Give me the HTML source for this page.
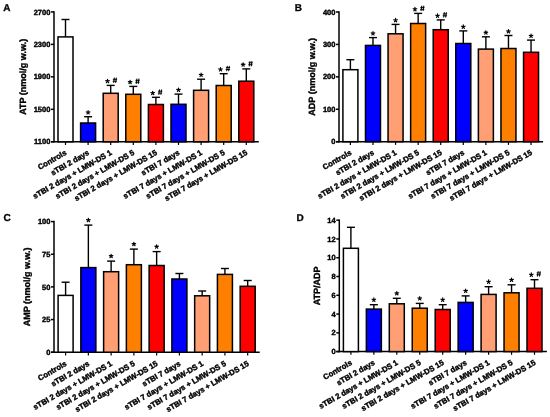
<!DOCTYPE html>
<html><head><meta charset="utf-8"><style>
html,body{margin:0;padding:0;background:#fff;}
svg{display:block;will-change:transform;font-family:"Liberation Sans", sans-serif;}
text{stroke:#000;stroke-width:0.4px;text-rendering:geometricPrecision;}
.st{text-rendering:geometricPrecision;stroke-width:0.3px;}
</style></head><body>
<svg width="550" height="417" viewBox="0 0 550 417">
<rect width="550" height="417" fill="#fff"/>
<text x="3.2" y="10.9" font-size="10" font-weight="bold" class="st">A</text>
<line x1="54" y1="11.15" x2="54" y2="142.55" stroke="#000" stroke-width="1.5"/>
<line x1="51" y1="11.90" x2="54" y2="11.90" stroke="#000" stroke-width="1.5"/>
<text x="50.4" y="14.50" font-size="7.5" font-weight="bold" text-anchor="end">2700</text>
<line x1="51" y1="44.38" x2="54" y2="44.38" stroke="#000" stroke-width="1.5"/>
<text x="50.4" y="46.98" font-size="7.5" font-weight="bold" text-anchor="end">2300</text>
<line x1="51" y1="76.85" x2="54" y2="76.85" stroke="#000" stroke-width="1.5"/>
<text x="50.4" y="79.45" font-size="7.5" font-weight="bold" text-anchor="end">1900</text>
<line x1="51" y1="109.33" x2="54" y2="109.33" stroke="#000" stroke-width="1.5"/>
<text x="50.4" y="111.93" font-size="7.5" font-weight="bold" text-anchor="end">1500</text>
<line x1="51" y1="141.80" x2="54" y2="141.80" stroke="#000" stroke-width="1.5"/>
<text x="50.4" y="144.40" font-size="7.5" font-weight="bold" text-anchor="end">1100</text>
<line x1="51" y1="141.8" x2="258.80" y2="141.8" stroke="#000" stroke-width="1.5"/>
<text transform="translate(26.0,76.85) rotate(-90)" font-size="9.0" font-weight="bold" text-anchor="middle">ATP (nmol/g w.w.)</text>
<line x1="65.50" y1="19.50" x2="65.50" y2="36.90" stroke="#000" stroke-width="1.4"/>
<line x1="61.50" y1="19.50" x2="69.50" y2="19.50" stroke="#000" stroke-width="1.4"/>
<rect x="58.00" y="36.90" width="15.0" height="104.90" fill="#ffffff" stroke="#000" stroke-width="1.5"/>
<line x1="65.50" y1="141.8" x2="65.50" y2="145.0" stroke="#000" stroke-width="1.2"/>
<text transform="translate(67.20,154.20) rotate(-30)" font-size="7.72" font-weight="bold" text-anchor="end">Controls</text>
<line x1="88.10" y1="116.70" x2="88.10" y2="123.00" stroke="#000" stroke-width="1.4"/>
<line x1="84.10" y1="116.70" x2="92.10" y2="116.70" stroke="#000" stroke-width="1.4"/>
<rect x="80.60" y="123.00" width="15.0" height="18.80" fill="#0000ff" stroke="#000" stroke-width="1.5"/>
<line x1="88.10" y1="141.8" x2="88.10" y2="145.0" stroke="#000" stroke-width="1.2"/>
<path d="M88.10,112.49L88.10,110.64M88.10,112.49L89.86,111.92M88.10,112.49L89.19,113.99M88.10,112.49L87.01,113.99M88.10,112.49L86.34,111.92" stroke="#000" stroke-width="1.2" stroke-linecap="round" fill="none"/>
<text transform="translate(89.80,154.20) rotate(-30)" font-size="7.72" font-weight="bold" text-anchor="end">sTBI 2 days</text>
<line x1="110.70" y1="85.40" x2="110.70" y2="93.30" stroke="#000" stroke-width="1.4"/>
<line x1="106.70" y1="85.40" x2="114.70" y2="85.40" stroke="#000" stroke-width="1.4"/>
<rect x="103.20" y="93.30" width="15.0" height="48.50" fill="#ff9f73" stroke="#000" stroke-width="1.5"/>
<line x1="110.70" y1="141.8" x2="110.70" y2="145.0" stroke="#000" stroke-width="1.2"/>
<path d="M107.50,81.19L107.50,79.34M107.50,81.19L109.26,80.62M107.50,81.19L108.59,82.69M107.50,81.19L106.41,82.69M107.50,81.19L105.74,80.62" stroke="#000" stroke-width="1.2" stroke-linecap="round" fill="none"/>
<path d="M114.35,77.60L113.65,82.90M116.35,77.60L115.65,82.90M112.90,79.30H117.10M112.70,81.20H116.90" stroke="#000" stroke-width="1.0" fill="none"/>
<text transform="translate(112.40,154.20) rotate(-30)" font-size="7.72" font-weight="bold" text-anchor="end">sTBI 2 days + LMW-DS 1</text>
<line x1="133.30" y1="86.40" x2="133.30" y2="94.30" stroke="#000" stroke-width="1.4"/>
<line x1="129.30" y1="86.40" x2="137.30" y2="86.40" stroke="#000" stroke-width="1.4"/>
<rect x="125.80" y="94.30" width="15.0" height="47.50" fill="#ff8000" stroke="#000" stroke-width="1.5"/>
<line x1="133.30" y1="141.8" x2="133.30" y2="145.0" stroke="#000" stroke-width="1.2"/>
<path d="M130.10,82.19L130.10,80.34M130.10,82.19L131.86,81.62M130.10,82.19L131.19,83.69M130.10,82.19L129.01,83.69M130.10,82.19L128.34,81.62" stroke="#000" stroke-width="1.2" stroke-linecap="round" fill="none"/>
<path d="M136.95,78.60L136.25,83.90M138.95,78.60L138.25,83.90M135.50,80.30H139.70M135.30,82.20H139.50" stroke="#000" stroke-width="1.0" fill="none"/>
<text transform="translate(135.00,154.20) rotate(-30)" font-size="7.72" font-weight="bold" text-anchor="end">sTBI 2 days + LMW-DS 5</text>
<line x1="155.90" y1="97.30" x2="155.90" y2="104.50" stroke="#000" stroke-width="1.4"/>
<line x1="151.90" y1="97.30" x2="159.90" y2="97.30" stroke="#000" stroke-width="1.4"/>
<rect x="148.40" y="104.50" width="15.0" height="37.30" fill="#ff0000" stroke="#000" stroke-width="1.5"/>
<line x1="155.90" y1="141.8" x2="155.90" y2="145.0" stroke="#000" stroke-width="1.2"/>
<path d="M152.70,93.09L152.70,91.24M152.70,93.09L154.46,92.52M152.70,93.09L153.79,94.59M152.70,93.09L151.61,94.59M152.70,93.09L150.94,92.52" stroke="#000" stroke-width="1.2" stroke-linecap="round" fill="none"/>
<path d="M159.55,89.50L158.85,94.80M161.55,89.50L160.85,94.80M158.10,91.20H162.30M157.90,93.10H162.10" stroke="#000" stroke-width="1.0" fill="none"/>
<text transform="translate(157.60,154.20) rotate(-30)" font-size="7.72" font-weight="bold" text-anchor="end">sTBI 2 days + LMW-DS 15</text>
<line x1="178.50" y1="94.10" x2="178.50" y2="104.30" stroke="#000" stroke-width="1.4"/>
<line x1="174.50" y1="94.10" x2="182.50" y2="94.10" stroke="#000" stroke-width="1.4"/>
<rect x="171.00" y="104.30" width="15.0" height="37.50" fill="#0000ff" stroke="#000" stroke-width="1.5"/>
<line x1="178.50" y1="141.8" x2="178.50" y2="145.0" stroke="#000" stroke-width="1.2"/>
<path d="M178.50,89.89L178.50,88.04M178.50,89.89L180.26,89.32M178.50,89.89L179.59,91.39M178.50,89.89L177.41,91.39M178.50,89.89L176.74,89.32" stroke="#000" stroke-width="1.2" stroke-linecap="round" fill="none"/>
<text transform="translate(180.20,154.20) rotate(-30)" font-size="7.72" font-weight="bold" text-anchor="end">sTBI 7 days</text>
<line x1="201.10" y1="79.20" x2="201.10" y2="90.30" stroke="#000" stroke-width="1.4"/>
<line x1="197.10" y1="79.20" x2="205.10" y2="79.20" stroke="#000" stroke-width="1.4"/>
<rect x="193.60" y="90.30" width="15.0" height="51.50" fill="#ff9f73" stroke="#000" stroke-width="1.5"/>
<line x1="201.10" y1="141.8" x2="201.10" y2="145.0" stroke="#000" stroke-width="1.2"/>
<path d="M201.10,74.99L201.10,73.14M201.10,74.99L202.86,74.42M201.10,74.99L202.19,76.49M201.10,74.99L200.01,76.49M201.10,74.99L199.34,74.42" stroke="#000" stroke-width="1.2" stroke-linecap="round" fill="none"/>
<text transform="translate(202.80,154.20) rotate(-30)" font-size="7.72" font-weight="bold" text-anchor="end">sTBI 7 days + LMW-DS 1</text>
<line x1="223.70" y1="73.70" x2="223.70" y2="85.50" stroke="#000" stroke-width="1.4"/>
<line x1="219.70" y1="73.70" x2="227.70" y2="73.70" stroke="#000" stroke-width="1.4"/>
<rect x="216.20" y="85.50" width="15.0" height="56.30" fill="#ff8000" stroke="#000" stroke-width="1.5"/>
<line x1="223.70" y1="141.8" x2="223.70" y2="145.0" stroke="#000" stroke-width="1.2"/>
<path d="M220.50,69.49L220.50,67.64M220.50,69.49L222.26,68.92M220.50,69.49L221.59,70.99M220.50,69.49L219.41,70.99M220.50,69.49L218.74,68.92" stroke="#000" stroke-width="1.2" stroke-linecap="round" fill="none"/>
<path d="M227.35,65.90L226.65,71.20M229.35,65.90L228.65,71.20M225.90,67.60H230.10M225.70,69.50H229.90" stroke="#000" stroke-width="1.0" fill="none"/>
<text transform="translate(225.40,154.20) rotate(-30)" font-size="7.72" font-weight="bold" text-anchor="end">sTBI 7 days + LMW-DS 5</text>
<line x1="246.30" y1="68.90" x2="246.30" y2="81.20" stroke="#000" stroke-width="1.4"/>
<line x1="242.30" y1="68.90" x2="250.30" y2="68.90" stroke="#000" stroke-width="1.4"/>
<rect x="238.80" y="81.20" width="15.0" height="60.60" fill="#ff0000" stroke="#000" stroke-width="1.5"/>
<line x1="246.30" y1="141.8" x2="246.30" y2="145.0" stroke="#000" stroke-width="1.2"/>
<path d="M243.10,64.69L243.10,62.84M243.10,64.69L244.86,64.12M243.10,64.69L244.19,66.19M243.10,64.69L242.01,66.19M243.10,64.69L241.34,64.12" stroke="#000" stroke-width="1.2" stroke-linecap="round" fill="none"/>
<path d="M249.95,61.10L249.25,66.40M251.95,61.10L251.25,66.40M248.50,62.80H252.70M248.30,64.70H252.50" stroke="#000" stroke-width="1.0" fill="none"/>
<text transform="translate(248.00,154.20) rotate(-30)" font-size="7.72" font-weight="bold" text-anchor="end">sTBI 7 days + LMW-DS 15</text>
<text x="294.8" y="10.9" font-size="10" font-weight="bold" class="st">B</text>
<line x1="339" y1="11.25" x2="339" y2="142.45" stroke="#000" stroke-width="1.5"/>
<line x1="336" y1="12.00" x2="339" y2="12.00" stroke="#000" stroke-width="1.5"/>
<text x="335.4" y="14.60" font-size="7.5" font-weight="bold" text-anchor="end">400</text>
<line x1="336" y1="44.42" x2="339" y2="44.42" stroke="#000" stroke-width="1.5"/>
<text x="335.4" y="47.02" font-size="7.5" font-weight="bold" text-anchor="end">300</text>
<line x1="336" y1="76.85" x2="339" y2="76.85" stroke="#000" stroke-width="1.5"/>
<text x="335.4" y="79.45" font-size="7.5" font-weight="bold" text-anchor="end">200</text>
<line x1="336" y1="109.27" x2="339" y2="109.27" stroke="#000" stroke-width="1.5"/>
<text x="335.4" y="111.87" font-size="7.5" font-weight="bold" text-anchor="end">100</text>
<line x1="336" y1="141.70" x2="339" y2="141.70" stroke="#000" stroke-width="1.5"/>
<text x="335.4" y="144.30" font-size="7.5" font-weight="bold" text-anchor="end">0</text>
<line x1="336" y1="141.7" x2="543.10" y2="141.7" stroke="#000" stroke-width="1.5"/>
<text transform="translate(315.2,76.85) rotate(-90)" font-size="9.0" font-weight="bold" text-anchor="middle">ADP (nmol/g w.w.)</text>
<line x1="350.40" y1="59.70" x2="350.40" y2="69.70" stroke="#000" stroke-width="1.4"/>
<line x1="346.40" y1="59.70" x2="354.40" y2="59.70" stroke="#000" stroke-width="1.4"/>
<rect x="342.90" y="69.70" width="15.0" height="72.00" fill="#ffffff" stroke="#000" stroke-width="1.5"/>
<line x1="350.40" y1="141.7" x2="350.40" y2="144.89999999999998" stroke="#000" stroke-width="1.2"/>
<text transform="translate(352.10,154.10) rotate(-30)" font-size="7.72" font-weight="bold" text-anchor="end">Controls</text>
<line x1="372.98" y1="37.60" x2="372.98" y2="45.40" stroke="#000" stroke-width="1.4"/>
<line x1="368.98" y1="37.60" x2="376.98" y2="37.60" stroke="#000" stroke-width="1.4"/>
<rect x="365.48" y="45.40" width="15.0" height="96.30" fill="#0000ff" stroke="#000" stroke-width="1.5"/>
<line x1="372.98" y1="141.7" x2="372.98" y2="144.89999999999998" stroke="#000" stroke-width="1.2"/>
<path d="M372.98,33.49L372.98,31.64M372.98,33.49L374.74,32.92M372.98,33.49L374.07,34.99M372.98,33.49L371.89,34.99M372.98,33.49L371.22,32.92" stroke="#000" stroke-width="1.2" stroke-linecap="round" fill="none"/>
<text transform="translate(374.68,154.10) rotate(-30)" font-size="7.72" font-weight="bold" text-anchor="end">sTBI 2 days</text>
<line x1="395.56" y1="24.40" x2="395.56" y2="33.80" stroke="#000" stroke-width="1.4"/>
<line x1="391.56" y1="24.40" x2="399.56" y2="24.40" stroke="#000" stroke-width="1.4"/>
<rect x="388.06" y="33.80" width="15.0" height="107.90" fill="#ff9f73" stroke="#000" stroke-width="1.5"/>
<line x1="395.56" y1="141.7" x2="395.56" y2="144.89999999999998" stroke="#000" stroke-width="1.2"/>
<path d="M395.56,20.29L395.56,18.44M395.56,20.29L397.32,19.72M395.56,20.29L396.65,21.79M395.56,20.29L394.47,21.79M395.56,20.29L393.80,19.72" stroke="#000" stroke-width="1.2" stroke-linecap="round" fill="none"/>
<text transform="translate(397.26,154.10) rotate(-30)" font-size="7.72" font-weight="bold" text-anchor="end">sTBI 2 days + LMW-DS 1</text>
<line x1="418.14" y1="13.40" x2="418.14" y2="23.50" stroke="#000" stroke-width="1.4"/>
<line x1="414.14" y1="13.40" x2="422.14" y2="13.40" stroke="#000" stroke-width="1.4"/>
<rect x="410.64" y="23.50" width="15.0" height="118.20" fill="#ff8000" stroke="#000" stroke-width="1.5"/>
<line x1="418.14" y1="141.7" x2="418.14" y2="144.89999999999998" stroke="#000" stroke-width="1.2"/>
<path d="M414.94,9.29L414.94,7.44M414.94,9.29L416.70,8.72M414.94,9.29L416.03,10.79M414.94,9.29L413.85,10.79M414.94,9.29L413.18,8.72" stroke="#000" stroke-width="1.2" stroke-linecap="round" fill="none"/>
<path d="M421.79,5.70L421.09,11.00M423.79,5.70L423.09,11.00M420.34,7.40H424.54M420.14,9.30H424.34" stroke="#000" stroke-width="1.0" fill="none"/>
<text transform="translate(419.84,154.10) rotate(-30)" font-size="7.72" font-weight="bold" text-anchor="end">sTBI 2 days + LMW-DS 5</text>
<line x1="440.72" y1="19.90" x2="440.72" y2="29.70" stroke="#000" stroke-width="1.4"/>
<line x1="436.72" y1="19.90" x2="444.72" y2="19.90" stroke="#000" stroke-width="1.4"/>
<rect x="433.22" y="29.70" width="15.0" height="112.00" fill="#ff0000" stroke="#000" stroke-width="1.5"/>
<line x1="440.72" y1="141.7" x2="440.72" y2="144.89999999999998" stroke="#000" stroke-width="1.2"/>
<path d="M437.52,15.79L437.52,13.94M437.52,15.79L439.28,15.22M437.52,15.79L438.61,17.29M437.52,15.79L436.43,17.29M437.52,15.79L435.76,15.22" stroke="#000" stroke-width="1.2" stroke-linecap="round" fill="none"/>
<path d="M444.37,12.20L443.67,17.50M446.37,12.20L445.67,17.50M442.92,13.90H447.12M442.72,15.80H446.92" stroke="#000" stroke-width="1.0" fill="none"/>
<text transform="translate(442.42,154.10) rotate(-30)" font-size="7.72" font-weight="bold" text-anchor="end">sTBI 2 days + LMW-DS 15</text>
<line x1="463.30" y1="30.90" x2="463.30" y2="43.50" stroke="#000" stroke-width="1.4"/>
<line x1="459.30" y1="30.90" x2="467.30" y2="30.90" stroke="#000" stroke-width="1.4"/>
<rect x="455.80" y="43.50" width="15.0" height="98.20" fill="#0000ff" stroke="#000" stroke-width="1.5"/>
<line x1="463.30" y1="141.7" x2="463.30" y2="144.89999999999998" stroke="#000" stroke-width="1.2"/>
<path d="M463.30,26.79L463.30,24.94M463.30,26.79L465.06,26.22M463.30,26.79L464.39,28.29M463.30,26.79L462.21,28.29M463.30,26.79L461.54,26.22" stroke="#000" stroke-width="1.2" stroke-linecap="round" fill="none"/>
<text transform="translate(465.00,154.10) rotate(-30)" font-size="7.72" font-weight="bold" text-anchor="end">sTBI 7 days</text>
<line x1="485.88" y1="36.80" x2="485.88" y2="49.10" stroke="#000" stroke-width="1.4"/>
<line x1="481.88" y1="36.80" x2="489.88" y2="36.80" stroke="#000" stroke-width="1.4"/>
<rect x="478.38" y="49.10" width="15.0" height="92.60" fill="#ff9f73" stroke="#000" stroke-width="1.5"/>
<line x1="485.88" y1="141.7" x2="485.88" y2="144.89999999999998" stroke="#000" stroke-width="1.2"/>
<path d="M485.88,32.69L485.88,30.84M485.88,32.69L487.64,32.12M485.88,32.69L486.97,34.19M485.88,32.69L484.79,34.19M485.88,32.69L484.12,32.12" stroke="#000" stroke-width="1.2" stroke-linecap="round" fill="none"/>
<text transform="translate(487.58,154.10) rotate(-30)" font-size="7.72" font-weight="bold" text-anchor="end">sTBI 7 days + LMW-DS 1</text>
<line x1="508.46" y1="35.50" x2="508.46" y2="48.50" stroke="#000" stroke-width="1.4"/>
<line x1="504.46" y1="35.50" x2="512.46" y2="35.50" stroke="#000" stroke-width="1.4"/>
<rect x="500.96" y="48.50" width="15.0" height="93.20" fill="#ff8000" stroke="#000" stroke-width="1.5"/>
<line x1="508.46" y1="141.7" x2="508.46" y2="144.89999999999998" stroke="#000" stroke-width="1.2"/>
<path d="M508.46,31.39L508.46,29.54M508.46,31.39L510.22,30.82M508.46,31.39L509.55,32.89M508.46,31.39L507.37,32.89M508.46,31.39L506.70,30.82" stroke="#000" stroke-width="1.2" stroke-linecap="round" fill="none"/>
<text transform="translate(510.16,154.10) rotate(-30)" font-size="7.72" font-weight="bold" text-anchor="end">sTBI 7 days + LMW-DS 5</text>
<line x1="531.04" y1="40.10" x2="531.04" y2="52.30" stroke="#000" stroke-width="1.4"/>
<line x1="527.04" y1="40.10" x2="535.04" y2="40.10" stroke="#000" stroke-width="1.4"/>
<rect x="523.54" y="52.30" width="15.0" height="89.40" fill="#ff0000" stroke="#000" stroke-width="1.5"/>
<line x1="531.04" y1="141.7" x2="531.04" y2="144.89999999999998" stroke="#000" stroke-width="1.2"/>
<path d="M531.04,35.99L531.04,34.14M531.04,35.99L532.80,35.42M531.04,35.99L532.13,37.49M531.04,35.99L529.95,37.49M531.04,35.99L529.28,35.42" stroke="#000" stroke-width="1.2" stroke-linecap="round" fill="none"/>
<text transform="translate(532.74,154.10) rotate(-30)" font-size="7.72" font-weight="bold" text-anchor="end">sTBI 7 days + LMW-DS 15</text>
<text x="3.4" y="221.4" font-size="10" font-weight="bold" class="st">C</text>
<line x1="54" y1="220.85" x2="54" y2="352.95" stroke="#000" stroke-width="1.5"/>
<line x1="51" y1="221.60" x2="54" y2="221.60" stroke="#000" stroke-width="1.5"/>
<text x="50.4" y="224.20" font-size="7.5" font-weight="bold" text-anchor="end">100</text>
<line x1="51" y1="254.25" x2="54" y2="254.25" stroke="#000" stroke-width="1.5"/>
<text x="50.4" y="256.85" font-size="7.5" font-weight="bold" text-anchor="end">75</text>
<line x1="51" y1="286.90" x2="54" y2="286.90" stroke="#000" stroke-width="1.5"/>
<text x="50.4" y="289.50" font-size="7.5" font-weight="bold" text-anchor="end">50</text>
<line x1="51" y1="319.55" x2="54" y2="319.55" stroke="#000" stroke-width="1.5"/>
<text x="50.4" y="322.15" font-size="7.5" font-weight="bold" text-anchor="end">25</text>
<line x1="51" y1="352.20" x2="54" y2="352.20" stroke="#000" stroke-width="1.5"/>
<text x="50.4" y="354.80" font-size="7.5" font-weight="bold" text-anchor="end">0</text>
<line x1="51" y1="352.2" x2="259.70" y2="352.2" stroke="#000" stroke-width="1.5"/>
<text transform="translate(30.4,286.90) rotate(-90)" font-size="9.0" font-weight="bold" text-anchor="middle">AMP (nmol/g w.w.)</text>
<line x1="65.60" y1="282.20" x2="65.60" y2="295.40" stroke="#000" stroke-width="1.4"/>
<line x1="61.60" y1="282.20" x2="69.60" y2="282.20" stroke="#000" stroke-width="1.4"/>
<rect x="58.10" y="295.40" width="15.0" height="56.80" fill="#ffffff" stroke="#000" stroke-width="1.5"/>
<line x1="65.60" y1="352.2" x2="65.60" y2="355.4" stroke="#000" stroke-width="1.2"/>
<text transform="translate(67.30,365.20) rotate(-30)" font-size="7.72" font-weight="bold" text-anchor="end">Controls</text>
<line x1="88.36" y1="225.10" x2="88.36" y2="267.60" stroke="#000" stroke-width="1.4"/>
<line x1="84.36" y1="225.10" x2="92.36" y2="225.10" stroke="#000" stroke-width="1.4"/>
<rect x="80.86" y="267.60" width="15.0" height="84.60" fill="#0000ff" stroke="#000" stroke-width="1.5"/>
<line x1="88.36" y1="352.2" x2="88.36" y2="355.4" stroke="#000" stroke-width="1.2"/>
<path d="M88.36,220.19L88.36,218.34M88.36,220.19L90.12,219.62M88.36,220.19L89.45,221.69M88.36,220.19L87.27,221.69M88.36,220.19L86.60,219.62" stroke="#000" stroke-width="1.2" stroke-linecap="round" fill="none"/>
<text transform="translate(90.06,365.20) rotate(-30)" font-size="7.72" font-weight="bold" text-anchor="end">sTBI 2 days</text>
<line x1="111.12" y1="261.10" x2="111.12" y2="271.70" stroke="#000" stroke-width="1.4"/>
<line x1="107.12" y1="261.10" x2="115.12" y2="261.10" stroke="#000" stroke-width="1.4"/>
<rect x="103.62" y="271.70" width="15.0" height="80.50" fill="#ff9f73" stroke="#000" stroke-width="1.5"/>
<line x1="111.12" y1="352.2" x2="111.12" y2="355.4" stroke="#000" stroke-width="1.2"/>
<path d="M111.12,256.19L111.12,254.34M111.12,256.19L112.88,255.62M111.12,256.19L112.21,257.69M111.12,256.19L110.03,257.69M111.12,256.19L109.36,255.62" stroke="#000" stroke-width="1.2" stroke-linecap="round" fill="none"/>
<text transform="translate(112.82,365.20) rotate(-30)" font-size="7.72" font-weight="bold" text-anchor="end">sTBI 2 days + LMW-DS 1</text>
<line x1="133.88" y1="249.10" x2="133.88" y2="264.70" stroke="#000" stroke-width="1.4"/>
<line x1="129.88" y1="249.10" x2="137.88" y2="249.10" stroke="#000" stroke-width="1.4"/>
<rect x="126.38" y="264.70" width="15.0" height="87.50" fill="#ff8000" stroke="#000" stroke-width="1.5"/>
<line x1="133.88" y1="352.2" x2="133.88" y2="355.4" stroke="#000" stroke-width="1.2"/>
<path d="M133.88,244.19L133.88,242.34M133.88,244.19L135.64,243.62M133.88,244.19L134.97,245.69M133.88,244.19L132.79,245.69M133.88,244.19L132.12,243.62" stroke="#000" stroke-width="1.2" stroke-linecap="round" fill="none"/>
<text transform="translate(135.58,365.20) rotate(-30)" font-size="7.72" font-weight="bold" text-anchor="end">sTBI 2 days + LMW-DS 5</text>
<line x1="156.64" y1="251.60" x2="156.64" y2="265.50" stroke="#000" stroke-width="1.4"/>
<line x1="152.64" y1="251.60" x2="160.64" y2="251.60" stroke="#000" stroke-width="1.4"/>
<rect x="149.14" y="265.50" width="15.0" height="86.70" fill="#ff0000" stroke="#000" stroke-width="1.5"/>
<line x1="156.64" y1="352.2" x2="156.64" y2="355.4" stroke="#000" stroke-width="1.2"/>
<path d="M156.64,246.69L156.64,244.84M156.64,246.69L158.40,246.12M156.64,246.69L157.73,248.19M156.64,246.69L155.55,248.19M156.64,246.69L154.88,246.12" stroke="#000" stroke-width="1.2" stroke-linecap="round" fill="none"/>
<text transform="translate(158.34,365.20) rotate(-30)" font-size="7.72" font-weight="bold" text-anchor="end">sTBI 2 days + LMW-DS 15</text>
<line x1="179.40" y1="273.50" x2="179.40" y2="279.00" stroke="#000" stroke-width="1.4"/>
<line x1="175.40" y1="273.50" x2="183.40" y2="273.50" stroke="#000" stroke-width="1.4"/>
<rect x="171.90" y="279.00" width="15.0" height="73.20" fill="#0000ff" stroke="#000" stroke-width="1.5"/>
<line x1="179.40" y1="352.2" x2="179.40" y2="355.4" stroke="#000" stroke-width="1.2"/>
<text transform="translate(181.10,365.20) rotate(-30)" font-size="7.72" font-weight="bold" text-anchor="end">sTBI 7 days</text>
<line x1="202.16" y1="291.00" x2="202.16" y2="295.80" stroke="#000" stroke-width="1.4"/>
<line x1="198.16" y1="291.00" x2="206.16" y2="291.00" stroke="#000" stroke-width="1.4"/>
<rect x="194.66" y="295.80" width="15.0" height="56.40" fill="#ff9f73" stroke="#000" stroke-width="1.5"/>
<line x1="202.16" y1="352.2" x2="202.16" y2="355.4" stroke="#000" stroke-width="1.2"/>
<text transform="translate(203.86,365.20) rotate(-30)" font-size="7.72" font-weight="bold" text-anchor="end">sTBI 7 days + LMW-DS 1</text>
<line x1="224.92" y1="268.50" x2="224.92" y2="274.40" stroke="#000" stroke-width="1.4"/>
<line x1="220.92" y1="268.50" x2="228.92" y2="268.50" stroke="#000" stroke-width="1.4"/>
<rect x="217.42" y="274.40" width="15.0" height="77.80" fill="#ff8000" stroke="#000" stroke-width="1.5"/>
<line x1="224.92" y1="352.2" x2="224.92" y2="355.4" stroke="#000" stroke-width="1.2"/>
<text transform="translate(226.62,365.20) rotate(-30)" font-size="7.72" font-weight="bold" text-anchor="end">sTBI 7 days + LMW-DS 5</text>
<line x1="247.68" y1="280.50" x2="247.68" y2="286.30" stroke="#000" stroke-width="1.4"/>
<line x1="243.68" y1="280.50" x2="251.68" y2="280.50" stroke="#000" stroke-width="1.4"/>
<rect x="240.18" y="286.30" width="15.0" height="65.90" fill="#ff0000" stroke="#000" stroke-width="1.5"/>
<line x1="247.68" y1="352.2" x2="247.68" y2="355.4" stroke="#000" stroke-width="1.2"/>
<text transform="translate(249.38,365.20) rotate(-30)" font-size="7.72" font-weight="bold" text-anchor="end">sTBI 7 days + LMW-DS 15</text>
<text x="296.5" y="221.0" font-size="10" font-weight="bold" class="st">D</text>
<line x1="339.3" y1="219.45" x2="339.3" y2="352.35" stroke="#000" stroke-width="1.5"/>
<line x1="336.3" y1="220.20" x2="339.3" y2="220.20" stroke="#000" stroke-width="1.5"/>
<text x="335.7" y="222.80" font-size="7.5" font-weight="bold" text-anchor="end">14</text>
<line x1="336.3" y1="238.97" x2="339.3" y2="238.97" stroke="#000" stroke-width="1.5"/>
<text x="335.7" y="241.57" font-size="7.5" font-weight="bold" text-anchor="end">12</text>
<line x1="336.3" y1="257.74" x2="339.3" y2="257.74" stroke="#000" stroke-width="1.5"/>
<text x="335.7" y="260.34" font-size="7.5" font-weight="bold" text-anchor="end">10</text>
<line x1="336.3" y1="276.51" x2="339.3" y2="276.51" stroke="#000" stroke-width="1.5"/>
<text x="335.7" y="279.11" font-size="7.5" font-weight="bold" text-anchor="end">8</text>
<line x1="336.3" y1="295.29" x2="339.3" y2="295.29" stroke="#000" stroke-width="1.5"/>
<text x="335.7" y="297.89" font-size="7.5" font-weight="bold" text-anchor="end">6</text>
<line x1="336.3" y1="314.06" x2="339.3" y2="314.06" stroke="#000" stroke-width="1.5"/>
<text x="335.7" y="316.66" font-size="7.5" font-weight="bold" text-anchor="end">4</text>
<line x1="336.3" y1="332.83" x2="339.3" y2="332.83" stroke="#000" stroke-width="1.5"/>
<text x="335.7" y="335.43" font-size="7.5" font-weight="bold" text-anchor="end">2</text>
<line x1="336.3" y1="351.60" x2="339.3" y2="351.60" stroke="#000" stroke-width="1.5"/>
<text x="335.7" y="354.20" font-size="7.5" font-weight="bold" text-anchor="end">0</text>
<line x1="336.3" y1="351.6" x2="546.90" y2="351.6" stroke="#000" stroke-width="1.5"/>
<text transform="translate(320.3,285.90) rotate(-90)" font-size="9.0" font-weight="bold" text-anchor="middle">ATP/ADP</text>
<line x1="350.90" y1="227.30" x2="350.90" y2="248.30" stroke="#000" stroke-width="1.4"/>
<line x1="346.90" y1="227.30" x2="354.90" y2="227.30" stroke="#000" stroke-width="1.4"/>
<rect x="343.40" y="248.30" width="15.0" height="103.30" fill="#ffffff" stroke="#000" stroke-width="1.5"/>
<line x1="350.90" y1="351.6" x2="350.90" y2="354.8" stroke="#000" stroke-width="1.2"/>
<text transform="translate(352.60,364.20) rotate(-30)" font-size="7.72" font-weight="bold" text-anchor="end">Controls</text>
<line x1="373.85" y1="304.70" x2="373.85" y2="309.10" stroke="#000" stroke-width="1.4"/>
<line x1="369.85" y1="304.70" x2="377.85" y2="304.70" stroke="#000" stroke-width="1.4"/>
<rect x="366.35" y="309.10" width="15.0" height="42.50" fill="#0000ff" stroke="#000" stroke-width="1.5"/>
<line x1="373.85" y1="351.6" x2="373.85" y2="354.8" stroke="#000" stroke-width="1.2"/>
<path d="M373.85,299.79L373.85,297.94M373.85,299.79L375.61,299.22M373.85,299.79L374.94,301.29M373.85,299.79L372.76,301.29M373.85,299.79L372.09,299.22" stroke="#000" stroke-width="1.2" stroke-linecap="round" fill="none"/>
<text transform="translate(375.55,364.20) rotate(-30)" font-size="7.72" font-weight="bold" text-anchor="end">sTBI 2 days</text>
<line x1="396.80" y1="298.30" x2="396.80" y2="303.80" stroke="#000" stroke-width="1.4"/>
<line x1="392.80" y1="298.30" x2="400.80" y2="298.30" stroke="#000" stroke-width="1.4"/>
<rect x="389.30" y="303.80" width="15.0" height="47.80" fill="#ff9f73" stroke="#000" stroke-width="1.5"/>
<line x1="396.80" y1="351.6" x2="396.80" y2="354.8" stroke="#000" stroke-width="1.2"/>
<path d="M396.80,293.39L396.80,291.54M396.80,293.39L398.56,292.82M396.80,293.39L397.89,294.89M396.80,293.39L395.71,294.89M396.80,293.39L395.04,292.82" stroke="#000" stroke-width="1.2" stroke-linecap="round" fill="none"/>
<text transform="translate(398.50,364.20) rotate(-30)" font-size="7.72" font-weight="bold" text-anchor="end">sTBI 2 days + LMW-DS 1</text>
<line x1="419.75" y1="303.40" x2="419.75" y2="308.20" stroke="#000" stroke-width="1.4"/>
<line x1="415.75" y1="303.40" x2="423.75" y2="303.40" stroke="#000" stroke-width="1.4"/>
<rect x="412.25" y="308.20" width="15.0" height="43.40" fill="#ff8000" stroke="#000" stroke-width="1.5"/>
<line x1="419.75" y1="351.6" x2="419.75" y2="354.8" stroke="#000" stroke-width="1.2"/>
<path d="M419.75,298.49L419.75,296.64M419.75,298.49L421.51,297.92M419.75,298.49L420.84,299.99M419.75,298.49L418.66,299.99M419.75,298.49L417.99,297.92" stroke="#000" stroke-width="1.2" stroke-linecap="round" fill="none"/>
<text transform="translate(421.45,364.20) rotate(-30)" font-size="7.72" font-weight="bold" text-anchor="end">sTBI 2 days + LMW-DS 5</text>
<line x1="442.70" y1="304.70" x2="442.70" y2="309.50" stroke="#000" stroke-width="1.4"/>
<line x1="438.70" y1="304.70" x2="446.70" y2="304.70" stroke="#000" stroke-width="1.4"/>
<rect x="435.20" y="309.50" width="15.0" height="42.10" fill="#ff0000" stroke="#000" stroke-width="1.5"/>
<line x1="442.70" y1="351.6" x2="442.70" y2="354.8" stroke="#000" stroke-width="1.2"/>
<path d="M442.70,299.79L442.70,297.94M442.70,299.79L444.46,299.22M442.70,299.79L443.79,301.29M442.70,299.79L441.61,301.29M442.70,299.79L440.94,299.22" stroke="#000" stroke-width="1.2" stroke-linecap="round" fill="none"/>
<text transform="translate(444.40,364.20) rotate(-30)" font-size="7.72" font-weight="bold" text-anchor="end">sTBI 2 days + LMW-DS 15</text>
<line x1="465.65" y1="295.90" x2="465.65" y2="302.40" stroke="#000" stroke-width="1.4"/>
<line x1="461.65" y1="295.90" x2="469.65" y2="295.90" stroke="#000" stroke-width="1.4"/>
<rect x="458.15" y="302.40" width="15.0" height="49.20" fill="#0000ff" stroke="#000" stroke-width="1.5"/>
<line x1="465.65" y1="351.6" x2="465.65" y2="354.8" stroke="#000" stroke-width="1.2"/>
<path d="M465.65,290.99L465.65,289.14M465.65,290.99L467.41,290.42M465.65,290.99L466.74,292.49M465.65,290.99L464.56,292.49M465.65,290.99L463.89,290.42" stroke="#000" stroke-width="1.2" stroke-linecap="round" fill="none"/>
<text transform="translate(467.35,364.20) rotate(-30)" font-size="7.72" font-weight="bold" text-anchor="end">sTBI 7 days</text>
<line x1="488.60" y1="286.70" x2="488.60" y2="294.40" stroke="#000" stroke-width="1.4"/>
<line x1="484.60" y1="286.70" x2="492.60" y2="286.70" stroke="#000" stroke-width="1.4"/>
<rect x="481.10" y="294.40" width="15.0" height="57.20" fill="#ff9f73" stroke="#000" stroke-width="1.5"/>
<line x1="488.60" y1="351.6" x2="488.60" y2="354.8" stroke="#000" stroke-width="1.2"/>
<path d="M488.60,281.79L488.60,279.94M488.60,281.79L490.36,281.22M488.60,281.79L489.69,283.29M488.60,281.79L487.51,283.29M488.60,281.79L486.84,281.22" stroke="#000" stroke-width="1.2" stroke-linecap="round" fill="none"/>
<text transform="translate(490.30,364.20) rotate(-30)" font-size="7.72" font-weight="bold" text-anchor="end">sTBI 7 days + LMW-DS 1</text>
<line x1="511.55" y1="284.80" x2="511.55" y2="292.80" stroke="#000" stroke-width="1.4"/>
<line x1="507.55" y1="284.80" x2="515.55" y2="284.80" stroke="#000" stroke-width="1.4"/>
<rect x="504.05" y="292.80" width="15.0" height="58.80" fill="#ff8000" stroke="#000" stroke-width="1.5"/>
<line x1="511.55" y1="351.6" x2="511.55" y2="354.8" stroke="#000" stroke-width="1.2"/>
<path d="M511.55,279.89L511.55,278.04M511.55,279.89L513.31,279.32M511.55,279.89L512.64,281.39M511.55,279.89L510.46,281.39M511.55,279.89L509.79,279.32" stroke="#000" stroke-width="1.2" stroke-linecap="round" fill="none"/>
<text transform="translate(513.25,364.20) rotate(-30)" font-size="7.72" font-weight="bold" text-anchor="end">sTBI 7 days + LMW-DS 5</text>
<line x1="534.50" y1="279.70" x2="534.50" y2="288.30" stroke="#000" stroke-width="1.4"/>
<line x1="530.50" y1="279.70" x2="538.50" y2="279.70" stroke="#000" stroke-width="1.4"/>
<rect x="527.00" y="288.30" width="15.0" height="63.30" fill="#ff0000" stroke="#000" stroke-width="1.5"/>
<line x1="534.50" y1="351.6" x2="534.50" y2="354.8" stroke="#000" stroke-width="1.2"/>
<path d="M531.30,274.79L531.30,272.94M531.30,274.79L533.06,274.22M531.30,274.79L532.39,276.29M531.30,274.79L530.21,276.29M531.30,274.79L529.54,274.22" stroke="#000" stroke-width="1.2" stroke-linecap="round" fill="none"/>
<path d="M538.15,271.20L537.45,276.50M540.15,271.20L539.45,276.50M536.70,272.90H540.90M536.50,274.80H540.70" stroke="#000" stroke-width="1.0" fill="none"/>
<text transform="translate(536.20,364.20) rotate(-30)" font-size="7.72" font-weight="bold" text-anchor="end">sTBI 7 days + LMW-DS 15</text>
</svg>
</body></html>
